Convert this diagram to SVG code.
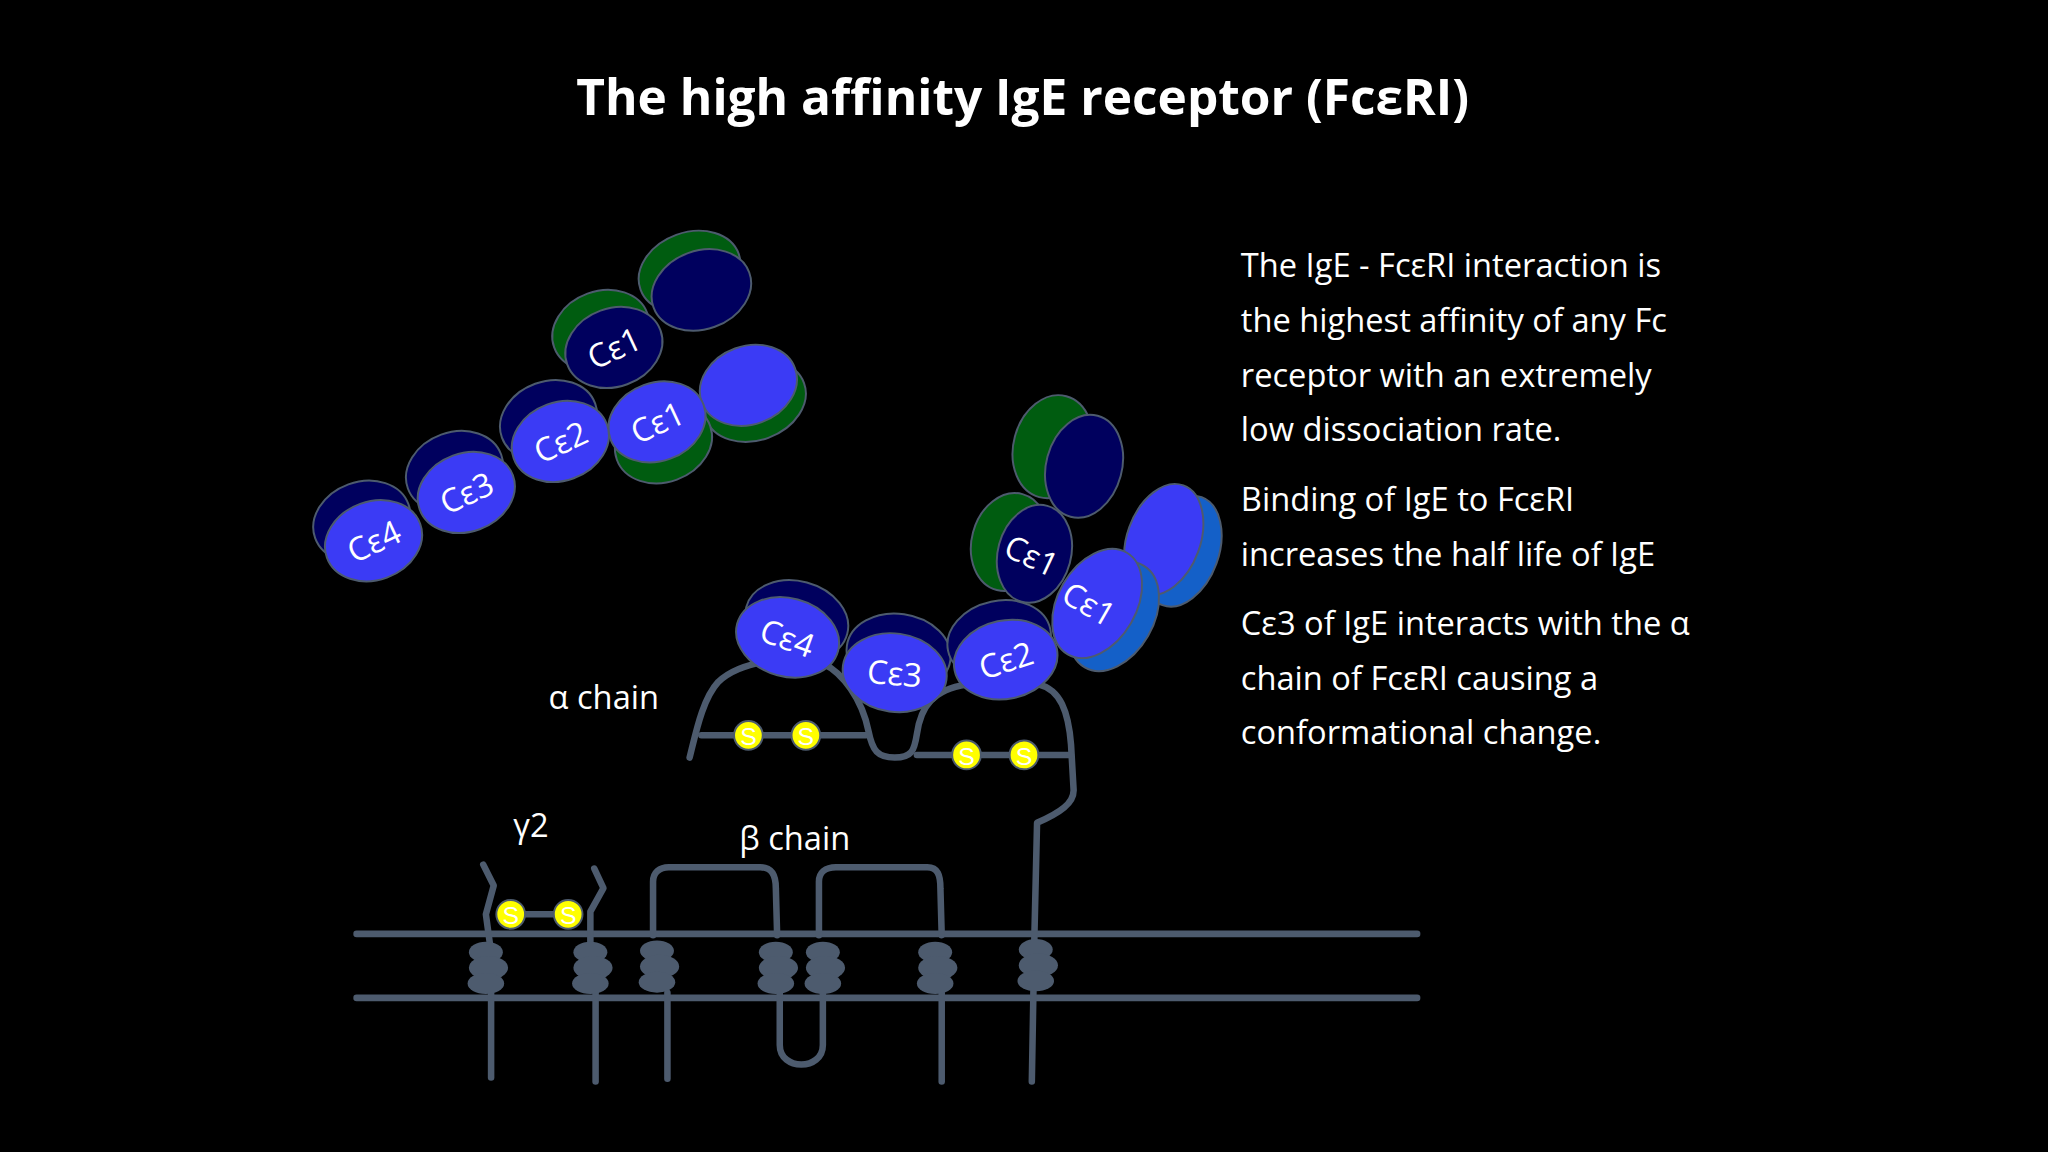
<svg xmlns="http://www.w3.org/2000/svg" width="2048" height="1152" viewBox="0 0 2048 1152">
<style>
.bg{fill:#000}
.nv{fill:#00005e;stroke:#4d5b6e;stroke-width:1.5}
.bl{fill:#3b3bf5;stroke:#4d5b6e;stroke-width:1.5}
.gr{fill:#005c10;stroke:#4d5b6e;stroke-width:1.5}
.lb{fill:#1460c8;stroke:#4d5b6e;stroke-width:1.5}
.dl{font-family:"Open Sans","Liberation Sans",sans-serif;font-size:25px;fill:#fff;text-anchor:middle;dominant-baseline:central}
.ch{fill:none;stroke:#4d5b6e;stroke-width:5;stroke-linecap:round;stroke-linejoin:round}
.ss{fill:#ffff00;stroke:#4d5b6e;stroke-width:1.5}
.st{font-family:"Liberation Sans",sans-serif;font-size:19px;fill:#fff;text-anchor:middle;dominant-baseline:central}
.t{font-family:"Open Sans","Liberation Sans",sans-serif;font-size:25px;fill:#fff}
</style>
<defs>
<g id="coil" fill="#4d5b6e">
<ellipse cx="0" cy="-12" rx="13" ry="8"/>
<ellipse cx="2" cy="0" rx="15" ry="9"/>
<ellipse cx="0" cy="12" rx="14" ry="8"/>
</g>
</defs>
<rect class="bg" width="2048" height="1152"/>
<g transform="scale(1.30612)">
<text x="783" y="88" text-anchor="middle" font-family="'Open Sans','Liberation Sans',sans-serif" font-weight="bold" font-size="38" fill="#fff">The high affinity IgE receptor (FcεRI)</text>

<g id="text">
<text class="t" x="950" y="212">The IgE - FcεRI interaction is</text>
<text class="t" x="950" y="254">the highest affinity of any Fc</text>
<text class="t" x="950" y="296">receptor with an extremely</text>
<text class="t" x="950" y="338">low dissociation rate.</text>
<text class="t" x="950" y="391">Binding of IgE to FcεRI</text>
<text class="t" x="950" y="433">increases the half life of IgE</text>
<text class="t" x="950" y="486">Cε3 of IgE interacts with the α</text>
<text class="t" x="950" y="528">chain of FcεRI causing a</text>
<text class="t" x="950" y="570">conformational change.</text>
</g>

<g id="free-IgE">
<ellipse class="gr" cx="528" cy="208" rx="40" ry="30" transform="rotate(-20 528 208)"/>
<ellipse class="nv" cx="537" cy="222" rx="39" ry="30" transform="rotate(-20 537 222)"/>
<ellipse class="gr" cx="460" cy="253" rx="38" ry="30" transform="rotate(-20 460 253)"/>
<ellipse class="nv" cx="470" cy="266" rx="38" ry="30" transform="rotate(-20 470 266)"/>
<text class="dl" x="470" y="266" transform="rotate(-25 470 266)">Cε1</text>
<ellipse class="gr" cx="578" cy="307" rx="40" ry="30" transform="rotate(-20 578 307)"/>
<ellipse class="bl" cx="573" cy="295" rx="38" ry="30" transform="rotate(-20 573 295)"/>
<ellipse class="gr" cx="508" cy="339" rx="38" ry="30" transform="rotate(-20 508 339)"/>
<ellipse class="bl" cx="503" cy="323" rx="38" ry="30" transform="rotate(-20 503 323)"/>
<text class="dl" x="503" y="323" transform="rotate(-25 503 323)">Cε1</text>
<ellipse class="nv" cx="420" cy="322" rx="38" ry="30" transform="rotate(-20 420 322)"/>
<ellipse class="bl" cx="429" cy="338" rx="38" ry="30" transform="rotate(-20 429 338)"/>
<text class="dl" x="429" y="338" transform="rotate(-25 429 338)">Cε2</text>
<ellipse class="nv" cx="348" cy="361" rx="38" ry="30" transform="rotate(-20 348 361)"/>
<ellipse class="bl" cx="357" cy="377" rx="38" ry="30" transform="rotate(-20 357 377)"/>
<text class="dl" x="357" y="377" transform="rotate(-25 357 377)">Cε3</text>
<ellipse class="nv" cx="277" cy="399" rx="38" ry="30" transform="rotate(-20 277 399)"/>
<ellipse class="bl" cx="286" cy="414" rx="38" ry="30" transform="rotate(-20 286 414)"/>
<text class="dl" x="286" y="414" transform="rotate(-25 286 414)">Cε4</text>
</g>

<g id="connectors">
<line class="ch" x1="273" y1="715" x2="1085" y2="715"/>
<line class="ch" x1="273" y1="764" x2="1085" y2="764"/>
<path class="ch" d="M528,580 C533,560 538,535 550,522 C565,508 590,505 610,505 L630,508 C645,515 660,535 665,560 C668,575 672,580 685,580 C698,580 700,575 702,562 C705,540 715,528 740,524 L795,524 C812,528 818,545 820,570 L822,605 C822,615 812,622 794,630 L792,715 L790,828"/>
<line class="ch" x1="537" y1="563" x2="663" y2="563"/>
<line class="ch" x1="702" y1="578" x2="820" y2="578"/>
<path class="ch" d="M370,662 L378,678 L372,700 L375,722"/>
<path class="ch" d="M455,665 L462,680 L452,698 L452,722"/>
<line class="ch" x1="391" y1="700" x2="435" y2="700"/>
<line class="ch" x1="376" y1="760" x2="376" y2="825"/>
<line class="ch" x1="456" y1="760" x2="456" y2="828"/>
<path class="ch" d="M500,716 L500,675 C500,668 505,664 512,664 L582,664 C591,664 594,670 594,680 L595,716"/>
<path class="ch" d="M627,716 L627,675 C627,668 632,664 640,664 L710,664 C718,664 720,670 720,680 L721,716"/>
<path class="ch" d="M597,760 L597,800 C597,820 630,820 630,800 L630,760"/>
<line class="ch" x1="511" y1="760" x2="511" y2="826"/>
<line class="ch" x1="721" y1="760" x2="721" y2="828"/>
<use href="#coil" x="372" y="741"/>
<use href="#coil" x="452" y="741"/>
<use href="#coil" x="503" y="740"/>
<use href="#coil" x="594" y="741"/>
<use href="#coil" x="630" y="741"/>
<use href="#coil" x="716" y="741"/>
<use href="#coil" x="793" y="739"/>
</g>

<g id="ss-bonds">
<circle class="ss" cx="573" cy="563" r="11"/><text class="st" x="573" y="564">S</text>
<circle class="ss" cx="617" cy="563" r="11"/><text class="st" x="617" y="564">S</text>
<circle class="ss" cx="740" cy="578" r="11"/><text class="st" x="740" y="579">S</text>
<circle class="ss" cx="784" cy="578" r="11"/><text class="st" x="784" y="579">S</text>
<circle class="ss" cx="391" cy="700" r="11"/><text class="st" x="391" y="701">S</text>
<circle class="ss" cx="435" cy="700" r="11"/><text class="st" x="435" y="701">S</text>
</g>

<g id="bound-IgE">
<ellipse class="gr" cx="806" cy="342" rx="30" ry="40" transform="rotate(15 806 342)"/>
<ellipse class="nv" cx="830" cy="357" rx="29" ry="40" transform="rotate(15 830 357)"/>
<ellipse class="gr" cx="773" cy="415" rx="29" ry="38" transform="rotate(15 773 415)"/>
<ellipse class="nv" cx="792" cy="424" rx="28" ry="38" transform="rotate(15 792 424)"/>
<text class="dl" x="790" y="425" transform="rotate(25 790 425)">Cε1</text>
<ellipse class="lb" cx="905" cy="422" rx="28" ry="44" transform="rotate(20 905 422)"/>
<ellipse class="bl" cx="891" cy="413" rx="28" ry="44" transform="rotate(20 891 413)"/>
<ellipse class="nv" cx="610" cy="475" rx="40" ry="30" transform="rotate(15 610 475)"/>
<ellipse class="bl" cx="603" cy="488" rx="40" ry="30" transform="rotate(15 603 488)"/>
<text class="dl" x="603" y="488" transform="rotate(20 603 488)">Cε4</text>
<ellipse class="nv" cx="688" cy="500" rx="40" ry="30" transform="rotate(8 688 500)"/>
<ellipse class="bl" cx="685" cy="515" rx="40" ry="30" transform="rotate(8 685 515)"/>
<text class="dl" x="685" y="515" transform="rotate(5 685 515)">Cε3</text>
<ellipse class="nv" cx="765" cy="490" rx="40" ry="30" transform="rotate(-12 765 490)"/>
<ellipse class="lb" cx="853" cy="472" rx="30" ry="45" transform="rotate(30 853 472)"/>
<ellipse class="bl" cx="840" cy="462" rx="30" ry="45" transform="rotate(30 840 462)"/>
<text class="dl" x="834" y="462" transform="rotate(30 834 462)">Cε1</text>
<ellipse class="bl" cx="770" cy="505" rx="40" ry="30" transform="rotate(-12 770 505)"/>
<text class="dl" x="770" y="505" transform="rotate(-18 770 505)">Cε2</text>
</g>

<g id="labels">
<text class="t" x="420" y="543">α chain</text>
<text class="t" x="393" y="641">γ2</text>
<text class="t" x="566" y="651">β chain</text>
</g>
</g>
</svg>
